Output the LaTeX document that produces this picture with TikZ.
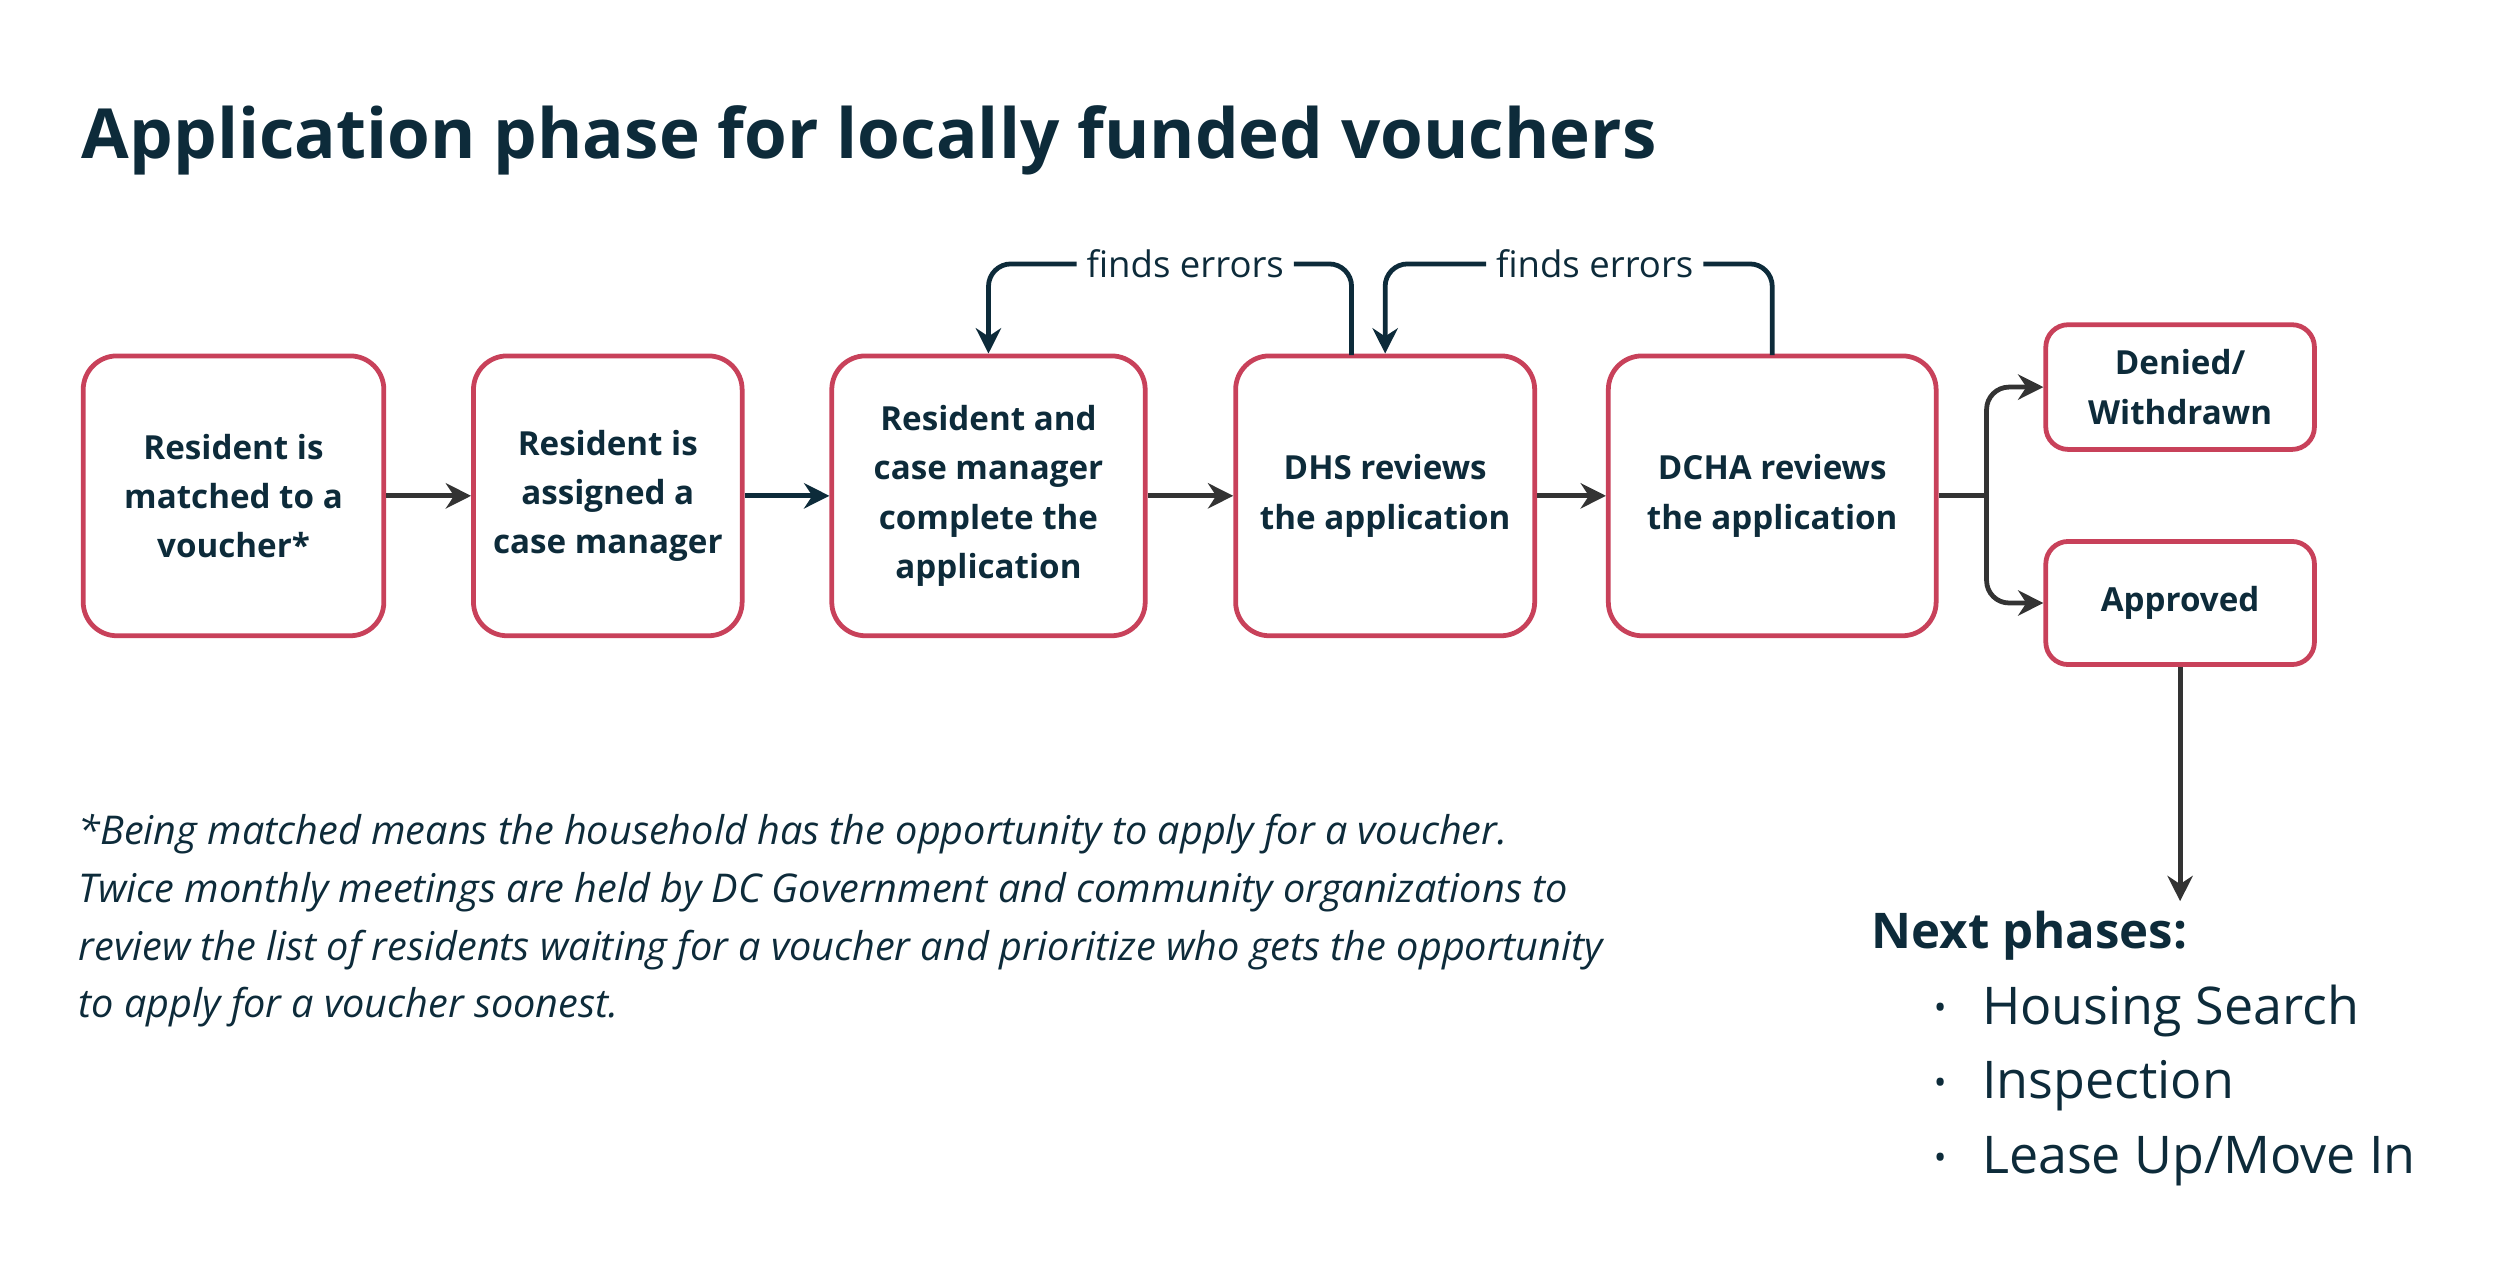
\documentclass[tikz,border=0pt]{standalone}
\usepackage{fontspec}
\setmainfont{Open Sans}
\usetikzlibrary{arrows.meta}
\definecolor{navy}{HTML}{0D2B3A}
\definecolor{boxred}{HTML}{C8415A}
\definecolor{arr}{HTML}{333333}
\begin{document}
\begin{tikzpicture}[x=0.02cm,y=-0.02cm,
 box/.style={draw=boxred,line width=1.7pt,rounded corners=12pt,text=navy,font=\fontsize{11.8}{17.5}\selectfont\bfseries,align=center,inner sep=0pt},
 flow/.style={draw=arr,line width=1.7pt,-{Stealth[length=9pt,width=9pt]}},
 fb/.style={draw=navy,line width=1.7pt,rounded corners=8pt,-{Stealth[length=9pt,width=9pt]}},
 lab/.style={text=navy,font=\fontsize{13}{16}\selectfont},
 item/.style={anchor=west,text=navy,font=\fontsize{18.5}{22}\selectfont},
 bul/.style={text=navy,font=\fontsize{12}{14}\selectfont}]
\useasboundingbox (0,0) rectangle (1563,800);
\node[anchor=west,text=navy,font=\fontsize{24.6}{30}\selectfont\bfseries] (title) at (45,88) {Application phase for locally funded vouchers};
\node[box,minimum width=3.76cm,minimum height=3.5cm] (b1) at (146,310) {Resident is\\matched to a\\voucher*};
\node[box,minimum width=3.36cm,minimum height=3.5cm] (b2) at (380,310) {Resident is\\assigned a\\case manager};
\node[box,minimum width=3.92cm,minimum height=3.5cm] (b3) at (618,310) {Resident and\\case manager\\complete the\\application};
\node[box,minimum width=3.74cm,minimum height=3.5cm] (b4) at (866,310) {DHS reviews\\the application};
\node[box,minimum width=4.1cm,minimum height=3.5cm] (b5) at (1108,310) {DCHA reviews\\the application};
\node[box,rounded corners=8pt,minimum width=3.36cm,minimum height=1.56cm] (den) at (1363,242) {Denied/\\Withdrawn};
\node[box,rounded corners=8pt,minimum width=3.36cm,minimum height=1.54cm] (app) at (1363,377) {Approved};
\draw[flow] (b1) -- (b2);
\draw[flow,draw=navy] (b2) -- (b3);
\draw[flow] (b3) -- (b4);
\draw[flow] (b4) -- (b5);
\node[lab] (f1) at (741,165) {finds errors};
\node[lab] (f2) at (997,165) {finds errors};
\draw[fb,-] (845,222) -- (845,165) -- (f1.east);
\draw[fb] (f1.west) -- (618,165) -- (b3.north);
\draw[fb,-] (1108,222) -- (1108,165) -- (f2.east);
\draw[fb] (f2.west) -- (866,165) -- (b4.north);
\coordinate (br) at (1242,310);
\draw[arr,line width=1.7pt] (b5.east) -- (br);
\draw[flow,rounded corners=8pt] (br) -- (1242,242) -- (den.west);
\draw[flow,rounded corners=8pt] (br) -- (1242,377) -- (app.west);
\node[anchor=north west,text=navy,font=\fontsize{14.1}{20.5}\selectfont\itshape,align=left] (note) at (43,503) {*Being matched means the household has the opportunity to apply for a voucher.\\Twice monthly meetings are held by DC Government and community organizations to\\review the list of residents waiting for a voucher and prioritize who gets the opportunity\\to apply for a voucher soonest.};
\node[anchor=west,text=navy,font=\fontsize{17.5}{20}\selectfont\bfseries] (np) at (1164,585) {Next phases:};
\draw[flow] (app.south) -- (np.north -| app.south);
\node[bul] (u1) at (1213,632) {•};
\node[item] (i1) at (1233,632) {Housing Search};
\node[bul] (u2) at (1213,679) {•};
\node[item] (i2) at (1233,679) {Inspection};
\node[bul] (u3) at (1213,726) {•};
\node[item] (i3) at (1233,726) {Lease Up/Move In};
\end{tikzpicture}
\end{document}
